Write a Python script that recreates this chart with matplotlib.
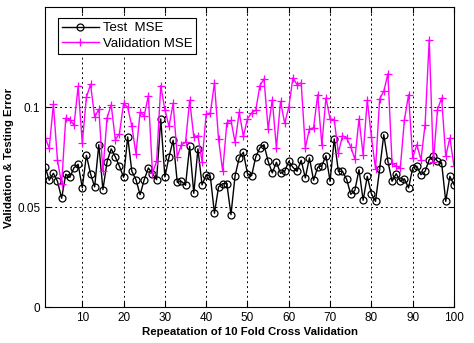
import matplotlib
matplotlib.use("Agg")
import matplotlib.pyplot as plt
import numpy as np

plt.rcParams['font.family'] = ['Liberation Sans', 'DejaVu Sans']

repeats = list(range(1, 101))

test_mse = [
    0.0703, 0.0635, 0.0670, 0.0630, 0.0545, 0.0665, 0.0650, 0.0698, 0.0715, 0.0598,
    0.0760, 0.0668, 0.0602, 0.0813, 0.0588, 0.0728, 0.0792, 0.0752, 0.0705, 0.0650,
    0.0852, 0.0680, 0.0638, 0.0563, 0.0638, 0.0697, 0.0668, 0.0638, 0.0942, 0.0652,
    0.0752, 0.0835, 0.0625, 0.0630, 0.0610, 0.0805, 0.0570, 0.0792, 0.0612, 0.0662,
    0.0655, 0.0470, 0.0602, 0.0618, 0.0618, 0.0463, 0.0658, 0.0747, 0.0775, 0.0668,
    0.0658, 0.0752, 0.0797, 0.0813, 0.0730, 0.0672, 0.0725, 0.0670, 0.0680, 0.0730,
    0.0700, 0.0680, 0.0735, 0.0647, 0.0747, 0.0635, 0.0700, 0.0708, 0.0758, 0.0630,
    0.0842, 0.0680, 0.0680, 0.0640, 0.0565, 0.0585, 0.0688, 0.0535, 0.0655, 0.0568,
    0.0530, 0.0692, 0.0863, 0.0730, 0.0630, 0.0668, 0.0630, 0.0642, 0.0597, 0.0697,
    0.0705, 0.0663, 0.0680, 0.0738, 0.0755, 0.0730, 0.0722, 0.0530, 0.0655, 0.0613,
]

validation_mse = [
    0.0848, 0.0796, 0.1015, 0.0735, 0.0617, 0.0946, 0.0937, 0.0911, 0.1105, 0.0820,
    0.1050, 0.1115, 0.0951, 0.0990, 0.0680, 0.0947, 0.1013, 0.0838, 0.0868, 0.1020,
    0.1000, 0.0905, 0.0768, 0.0975, 0.0958, 0.1058, 0.0672, 0.0730, 0.1108, 0.0988,
    0.0905, 0.1020, 0.0753, 0.0813, 0.0825, 0.1035, 0.0852, 0.0858, 0.0729, 0.0966,
    0.0971, 0.1122, 0.0840, 0.0680, 0.0922, 0.0935, 0.0825, 0.0975, 0.0855, 0.0942,
    0.0972, 0.0985, 0.1108, 0.1142, 0.0892, 0.1038, 0.0797, 0.1030, 0.0920, 0.1000,
    0.1147, 0.1113, 0.1122, 0.0797, 0.0892, 0.0897, 0.1063, 0.0813, 0.1047, 0.0942,
    0.0938, 0.0772, 0.0858, 0.0847, 0.0802, 0.0740, 0.0942, 0.0763, 0.1038, 0.0852,
    0.0692, 0.1042, 0.1080, 0.1168, 0.0722, 0.0705, 0.0697, 0.0938, 0.1063, 0.0747,
    0.0813, 0.0738, 0.0913, 0.1338, 0.0725, 0.0988, 0.1047, 0.0755, 0.0847, 0.0705,
]

x_ticks = [10, 20, 30, 40, 50, 60, 70, 80, 90, 100]
y_ticks = [0, 0.05, 0.1]
y_tick_labels = ['0', '0.05', '0.1']

fig = plt.figure(figsize=(4.74, 3.43), dpi=100)
ax = fig.add_axes([45.1/474, 1 - 307.3/343, (454 - 45.1)/474, (307.3 - 7.3)/343])

ax.plot(repeats, test_mse, color='black', lw=1.0, marker='o', ms=5,
        mfc='none', mec='black', mew=0.9, label='Test  MSE')
ax.plot(repeats, validation_mse, color='#ff00ff', lw=1.0, marker='+', ms=5.5,
        mew=0.9, label='Validation MSE')

ax.set_xlim(1, 100)
ax.set_ylim(0, 0.15)
ax.set_xticks(x_ticks)
ax.set_yticks(y_ticks)
ax.set_yticklabels(y_tick_labels)
ax.grid(True, color='black', linestyle=(0, (2, 3)), linewidth=0.7)
ax.tick_params(direction='in', top=True, right=True, length=4, labelsize=8.5, width=0.8)
for s in ax.spines.values():
    s.set_linewidth(0.8)

ax.set_xlabel('Repeatation of 10 Fold Cross Validation', fontsize=8.2,
              fontweight='bold', labelpad=2)
fig.text(9.5/474, 1 - 158/343, 'Validation & Testing Error', fontsize=8.2,
         fontweight='bold', rotation=90, ha='center', va='center')

leg = ax.legend(loc='upper left', bbox_to_anchor=(58/474, 1 - 18/343),
                bbox_transform=fig.transFigure, borderaxespad=0, fancybox=False,
                framealpha=1, edgecolor='black', fontsize=9.5, handlelength=2.8,
                handletextpad=0.3, borderpad=0.3, labelspacing=0.25)
leg.get_frame().set_linewidth(0.8)

fig.savefig('out.png', dpi=100)
